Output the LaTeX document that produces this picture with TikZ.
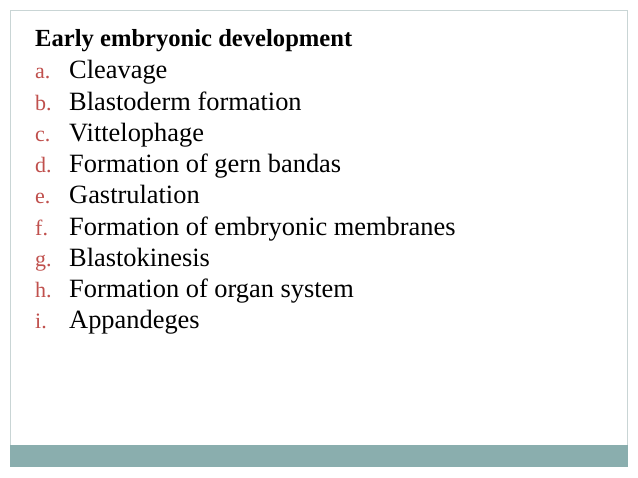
\documentclass[tikz,border=0pt]{standalone}
\usepackage{fontspec}
\setmainfont{Liberation Serif}
\definecolor{bar}{HTML}{8AAEAE}
\definecolor{frame}{HTML}{C9D5D5}
\definecolor{lab}{HTML}{C0504D}
\tikzset{lbl/.style={anchor=base west,inner sep=0,text=lab,font=\fontsize{22}{26}\selectfont},
itm/.style={anchor=base west,inner sep=0,font=\fontsize{26.4}{30}\selectfont}}
\begin{document}
\begin{tikzpicture}[x=1pt,y=-1pt]
\useasboundingbox (0,0) rectangle (638,478);
\fill[white] (0,0) rectangle (638,478);
\draw[frame,line width=1pt] (10.5,10.5) rectangle (627.5,467);
\fill[bar] (10,445) rectangle (628,467);
\node[anchor=base west,inner sep=0,font=\fontsize{24.6}{28}\selectfont\bfseries] (t) at (35,47) {Early embryonic development};
\foreach \l/\t [count=\i] in {a./Cleavage,b./Blastoderm formation,c./Vittelophage,d./Formation of gern bandas,e./Gastrulation,f./Formation of embryonic membranes,g./Blastokinesis,h./Formation of organ system,i./Appandeges}{
\node[lbl] (l\i) at (35,{79+(\i-1)*31.25}) {\l};
\node[itm] (i\i) at (69,{79+(\i-1)*31.25}) {\t};
}
\end{tikzpicture}
\end{document}
